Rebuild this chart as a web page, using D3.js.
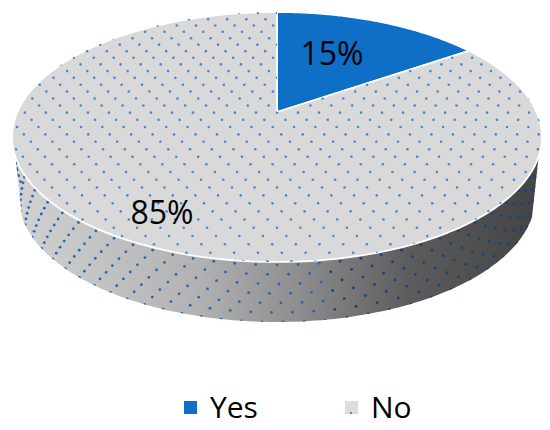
<!DOCTYPE html>
<html><head><meta charset="utf-8">
<script src="https://cdn.jsdelivr.net/npm/d3@7"></script>
<style>html,body{margin:0;padding:0;background:#fff}svg{display:block}text{font-family:"Open Sans",sans-serif;fill:#000}</style>
</head><body><svg id="c" width="550" height="430"></svg>
<script>
const categories = ["Yes", "No"];
const values = [15, 85];
const labels = ["15%", "85%"];
const colors = ["#0f6fc6", "#d9d9d9"];

const svg = d3.select("#c"), defs = svg.append("defs");
const cx = 277, cy = 112, k = 0.2, fx = 259.6, fy = 120, depth = 60, shrink = 0.975;
const project = (u, v) => { const w = 1 + k * v; return [cx + fx * u / w, cy - fy * v / w]; };
const rim = a => project(Math.sin(a), Math.cos(a));
const rimView = a => rim(a + 0.03 * Math.sin(a));
const low = (a, t) => { const p = rim(a); return [cx + (p[0] - cx) * (1 - (1 - shrink) * t), p[1] + depth * t]; };
const line = d3.line();
const arcPts = (a0, a1, f) => d3.range(0, 121).map(i => f(a0 + (a1 - a0) * i / 120));

const pie = d3.pie().sort(null).value(d => d)(values);
const slicePath = d => line([[cx, cy], ...arcPts(d.startAngle, d.endAngle, rimView)]) + "Z";

const sideA = 110.4 * Math.PI / 180, sideB = 249.6 * Math.PI / 180;
const sidePath = line([...arcPts(sideA, sideB, rim), ...arcPts(sideB, sideA, a => low(a, 1))]) + "Z";

const grad = defs.append("linearGradient").attr("id", "side")
  .attr("gradientUnits", "userSpaceOnUse").attr("x1", 12).attr("x2", 541).attr("y1", 0).attr("y2", 0);
[[0, "#d2d2d2"], [0.35, "#b2b2b2"], [0.55, "#8c8c8c"], [0.75, "#5c5c5c"], [1, "#434343"]]
  .forEach(s => grad.append("stop").attr("offset", s[0]).attr("stop-color", s[1]));
defs.append("clipPath").attr("id", "sideClip").append("path").attr("d", sidePath);
defs.append("clipPath").attr("id", "noClip").append("path").attr("d", slicePath(pie[1]));
defs.append("filter").attr("id", "soft").append("feGaussianBlur").attr("stdDeviation", 0.35);

// side wall
svg.append("path").attr("d", sidePath).attr("fill", "url(#side)");
const sideDots = [];
const sideAngles = [180];
for (let s = -1; s <= 1; s += 2) {
  let th = 180;
  while (Math.abs(th - 180) < 85) {
    const o = Math.abs(th - 180) / 70;
    th += s * 3.75 * (1 + 0.9 * o * o);
    sideAngles.push(th);
  }
}
d3.range(0, 7).forEach(r => {
  sideAngles.forEach(deg => {
    const a = (deg + r * 1.7) * Math.PI / 180;
    sideDots.push(low(a, (r + 0.3) / 6.3));
  });
});
svg.append("g").attr("clip-path", "url(#sideClip)").attr("filter", "url(#soft)")
  .selectAll("circle").data(sideDots).join("circle")
  .attr("cx", d => d[0]).attr("cy", d => d[1]).attr("r", 1.4)
  .attr("fill", d => d[0] > 330 ? "#16437f" : "#2668b8");

// top slices
svg.selectAll(".slice").data(pie).join("path").attr("class", "slice")
  .attr("d", slicePath).attr("fill", (d, i) => colors[i])
  .attr("stroke", "#fff").attr("stroke-width", 1.8).attr("stroke-linejoin", "round");

// dots on the "No" slice
const topDots = [];
let rowY = 13, row = 0;
while (rowY < 264) {
  const t = (rowY - 12) / 250, dx = 19 + 5 * t, shift = (row * 0.4) % 1;
  d3.range(-16, 17).forEach(c => topDots.push([cx + (c + shift) * dx, rowY]));
  rowY += 6.2 + 2.4 * t;
  row++;
}
svg.append("g").attr("clip-path", "url(#noClip)").attr("filter", "url(#soft)")
  .selectAll("circle").data(topDots).join("circle")
  .attr("cx", d => d[0]).attr("cy", d => d[1]).attr("r", 1.3).attr("fill", "#4a88d8");

// data labels
const labelPos = [[332, 65], [162, 224]];
svg.selectAll(".lab").data(labels).join("text").attr("class", "lab")
  .attr("x", (d, i) => labelPos[i][0]).attr("y", (d, i) => labelPos[i][1])
  .attr("text-anchor", "middle").attr("font-size", 32).text(d => d);

// legend
const legendX = [184, 345], legendTextX = [210, 371];
categories.forEach((c, i) => {
  svg.append("rect").attr("x", legendX[i]).attr("y", 401).attr("width", 13).attr("height", 13).attr("fill", i ? "#dcdcdc" : colors[0]);
  if (i) svg.append("circle").attr("cx", legendX[i] + 6).attr("cy", 413).attr("r", 1).attr("fill", "#2f72c4");
  svg.append("text").attr("x", legendTextX[i]).attr("y", 418).attr("font-size", 30).text(c);
});
</script></body></html>
